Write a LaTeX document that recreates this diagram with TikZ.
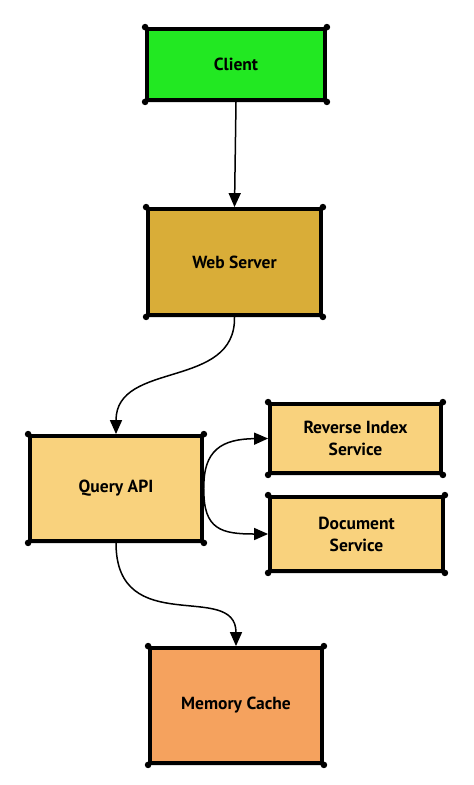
\documentclass[tikz,border=0pt]{standalone}
\usepackage{fontspec}
\setmainfont{PT Sans}
\usetikzlibrary{arrows.meta,shadows}
\definecolor{clientgreen}{HTML}{22E822}
\definecolor{webgold}{HTML}{D9AD38}
\definecolor{apiyellow}{HTML}{F9D27D}
\definecolor{cacheorange}{HTML}{F5A25E}
\tikzset{
  box/.style={draw=black, line width=3.8pt, rectangle, inner sep=0pt, align=center,
    font=\bfseries\fontsize{17.5}{22}\selectfont,
    drop shadow={shadow xshift=2pt, shadow yshift=-3pt, opacity=0.25}},
  conn/.style={line width=1.5pt, -{Triangle[length=14pt,width=12pt]}}
}
\begin{document}
\begin{tikzpicture}[x=1pt,y=-1pt]
\useasboundingbox (0,0) rectangle (474,785);
\node[box, fill=clientgreen, minimum width=178pt, minimum height=71pt] (client) at (236,64.5) {Client};
\node[box, fill=webgold, minimum width=173pt, minimum height=106pt] (web) at (234.5,262) {Web Server};
\node[box, fill=apiyellow, minimum width=172pt, minimum height=105pt] (query) at (116,488.5) {Query API};
\node[box, fill=apiyellow, minimum width=171pt, minimum height=69pt] (rev) at (355.5,438.5) {Reverse Index\\Service};
\node[box, fill=apiyellow, minimum width=173pt, minimum height=74pt] (doc) at (356.5,534) {Document\\Service};
\node[box, fill=cacheorange, minimum width=172pt, minimum height=115pt] (cache) at (236,705.5) {Memory Cache};
\foreach \n in {client,web,query,rev,doc,cache}{
  \foreach \a in {north west,north east,south west,south east}{
    \fill (\n.\a) circle (3.3pt);
  }
}
\draw[conn] (client.south) -- (web.north);
\draw[conn] (web.south) .. controls (236,390) and (116,360) .. (query.north);
\draw[conn] (query.east) .. controls (203,450) and (222,439) .. (rev.west);
\draw[conn] (query.east) .. controls (203,530) and (222,534) .. (doc.west);
\draw[conn] (query.south) .. controls (116,640) and (236,580) .. (cache.north);
\end{tikzpicture}
\end{document}
